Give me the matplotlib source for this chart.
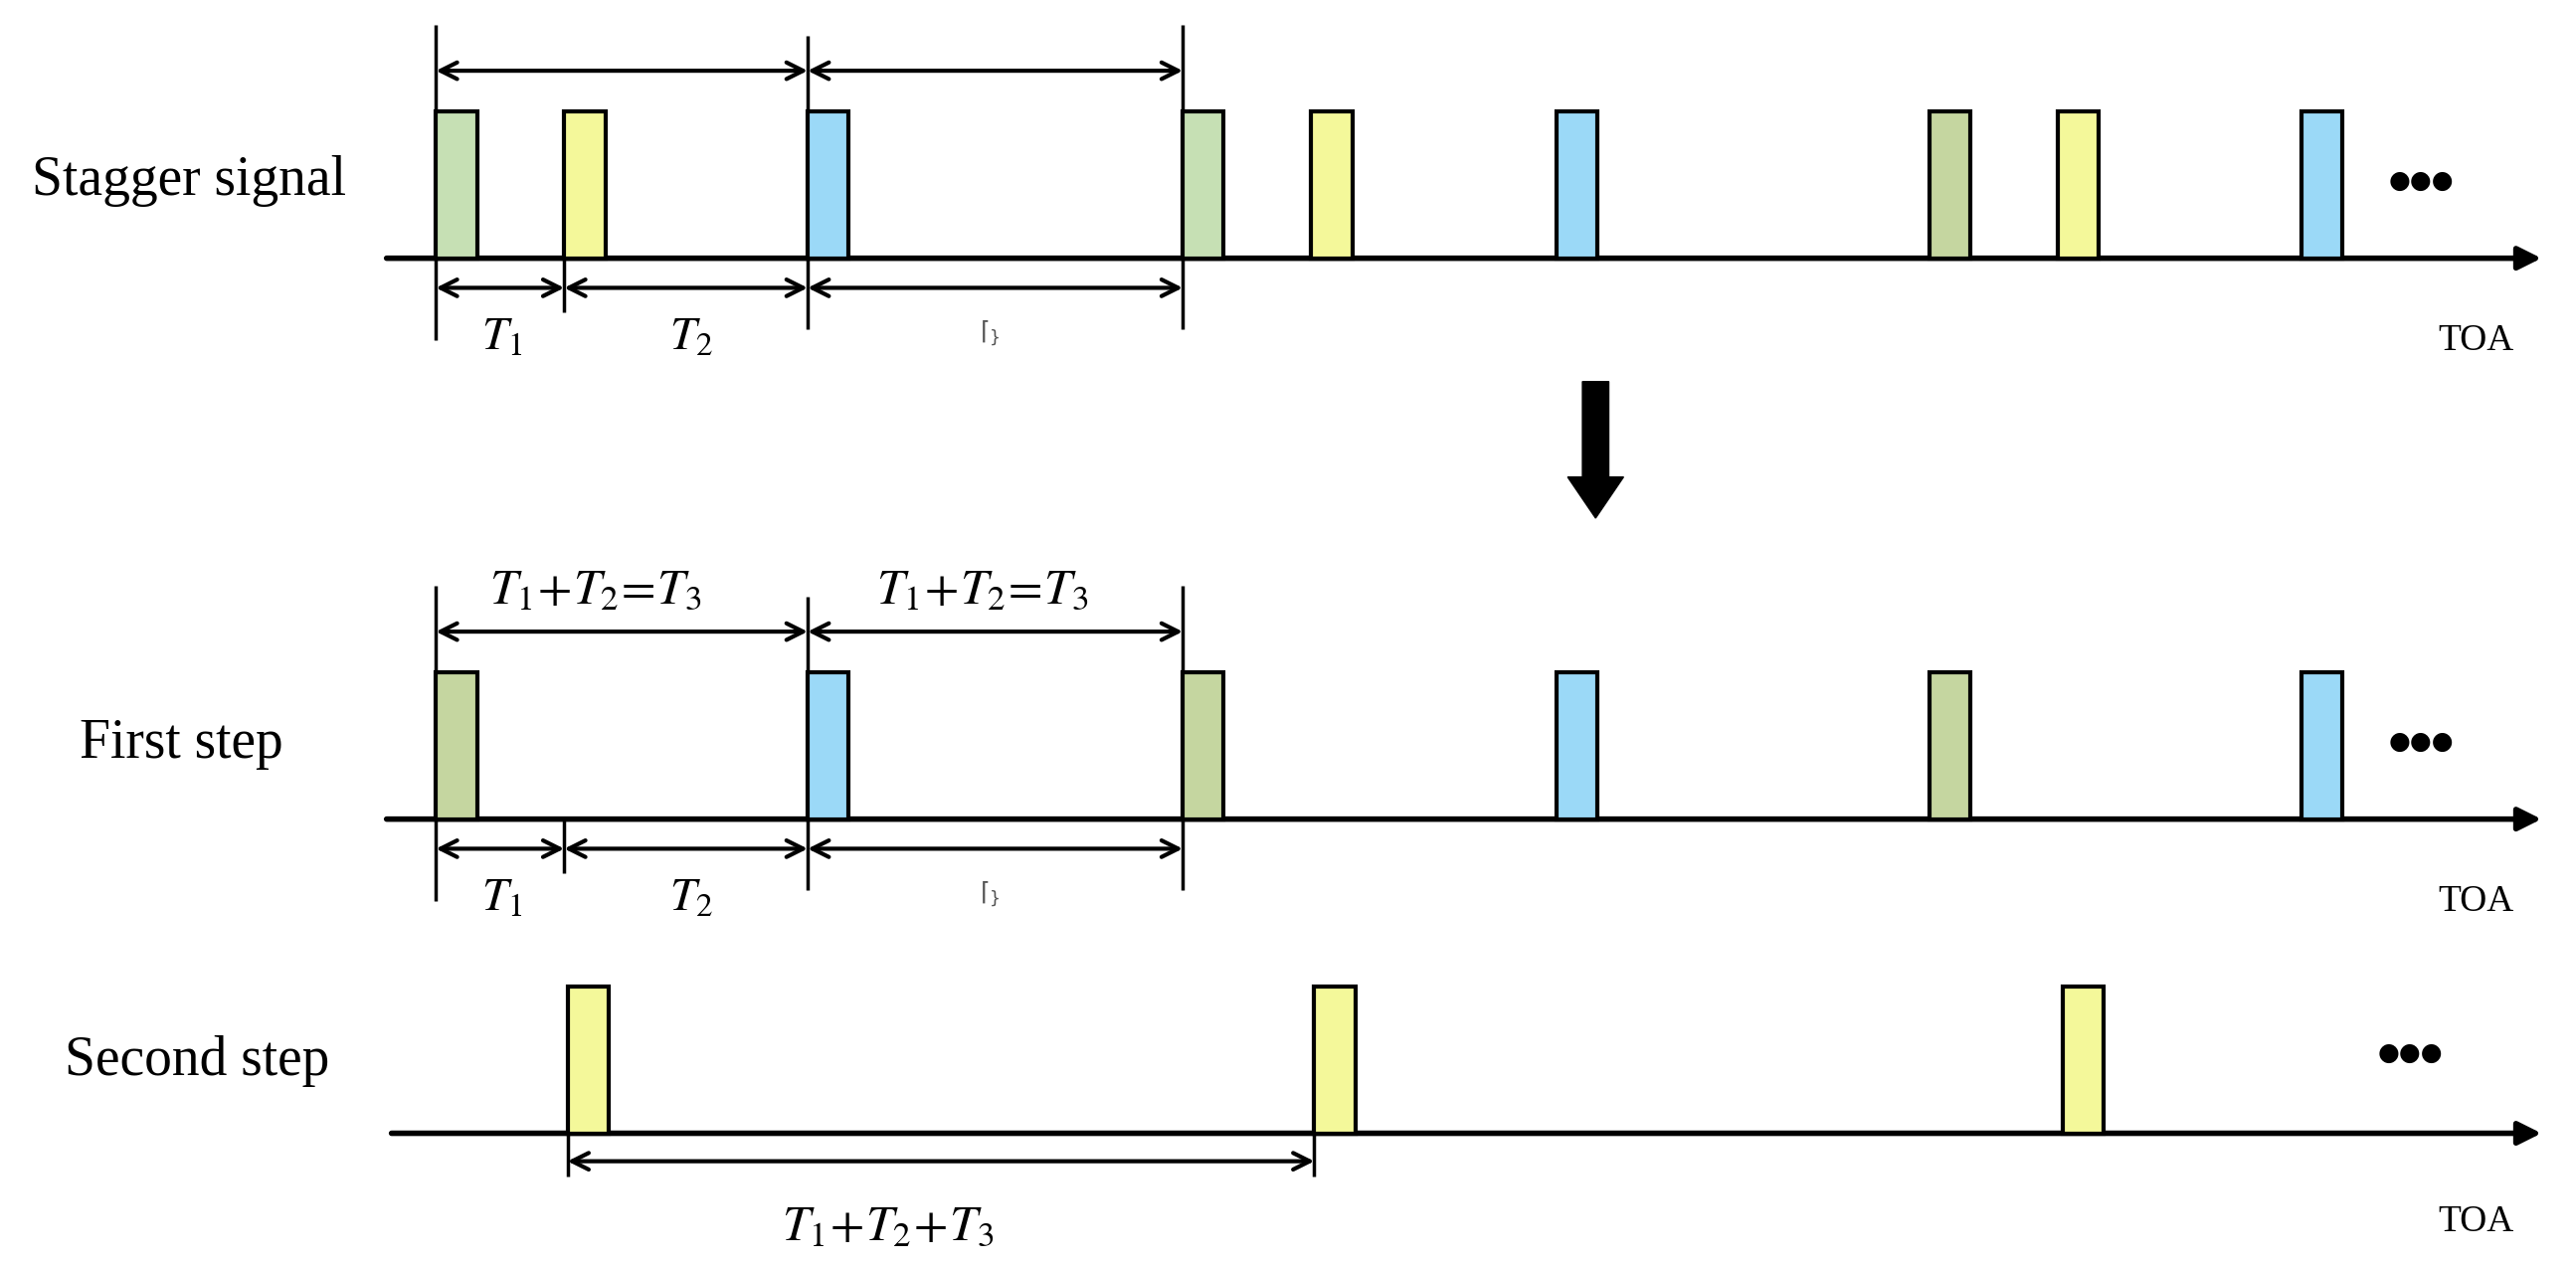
import matplotlib
matplotlib.use("Agg")
import matplotlib.pyplot as plt
from matplotlib.patches import Rectangle, FancyArrow

S = 2590/1566.0
W, H = 2590, 1273
GREEN, DGREEN, YELLOW, BLUE = "#C6E0B4", "#C5D6A0", "#F4F89A", "#9BD9F7"

row_titles = ["Stagger signal", "First step", "Second step"]
title_xy = [(115, 110), (110, 452), (120, 645)]
axis_y = [157, 498, 689]
axis_x0 = [235, 235, 238]
pulse_top = [68, 409, 600]
pulses = [
    [(265, GREEN), (343, YELLOW), (491, BLUE), (719, GREEN), (797, YELLOW), (946, BLUE), (1173, DGREEN), (1251, YELLOW), (1399, BLUE)],
    [(265, DGREEN), (491, BLUE), (719, DGREEN), (946, BLUE), (1173, DGREEN), (1399, BLUE)],
    [(345, YELLOW), (799, YELLOW), (1254, YELLOW)],
]
dots_xy = [(1472, 110), (1472, 451), (1465, 640)]
toa_y = [207, 548, 743]

fig = plt.figure(figsize=(W/100, H/100), dpi=100)
ax = fig.add_axes([0, 0, 1, 1])
ax.set_xlim(0, W); ax.set_ylim(H, 0); ax.axis("off")
serif = ["Liberation Serif", "DejaVu Serif"]

def P(x, y): return x*S, y*S

def line(x0, y0, x1, y1, lw=3):
    ax.plot([x0*S, x1*S], [y0*S, y1*S], color="black", lw=lw, solid_capstyle="butt")

def darrow(x0, x1, y):
    ax.annotate("", xy=P(x1, y), xytext=P(x0, y),
                arrowprops=dict(arrowstyle="<->", lw=3, color="black", mutation_scale=30, shrinkA=0, shrinkB=0))

for i in range(3):
    ay = axis_y[i]
    ax.annotate("", xy=P(1545, ay), xytext=P(axis_x0[i], ay),
                arrowprops=dict(arrowstyle="-|>", lw=4, color="black", mutation_scale=35, shrinkA=0, shrinkB=0))
    for x, c in pulses[i]:
        ax.add_patch(Rectangle(P(x, pulse_top[i]), 25*S, (ay-pulse_top[i])*S, facecolor=c, edgecolor="black", lw=3, zorder=3))
    ax.text(*P(*title_xy[i]), row_titles[i], family=serif, fontsize=40, ha="center", va="center")
    ax.text(*P(*dots_xy[i]), "●●●", fontsize=18, ha="center", va="center")
    ax.text(*P(1505, toa_y[i]), "TOA", family=serif, fontsize=27, ha="center", va="center")

for off, lab in [(0, None), (341, r"$T_1\!+\!T_2\!=\!T_3$")]:
    for x, y0, y1 in [(265, 15, 207), (491, 22, 200), (719, 15, 200)]:
        line(x, y0+off, x, y1+off, lw=2.5)
    line(343, 157+off, 343, 190+off, lw=2.5)
    darrow(265, 491, 43+off); darrow(491, 719, 43+off)
    darrow(265, 343, 175+off); darrow(343, 491, 175+off); darrow(491, 719, 175+off)
    ax.text(*P(305, 205+off), r"$T_1$", fontsize=34, ha="center", va="center", math_fontfamily="stix")
    ax.text(*P(420, 205+off), r"$T_2$", fontsize=34, ha="center", va="center", math_fontfamily="stix")
    ax.text(*P(602, 202+off), r"$\lceil_{\}}$", fontsize=18, color="#555555", ha="center", va="center")
    if lab:
        for cx in (362, 597):
            ax.text(*P(cx, 358), lab, fontsize=36, ha="center", va="center", math_fontfamily="stix")

line(345, 689, 345, 715, lw=2.5); line(799, 689, 799, 715, lw=2.5)
darrow(345, 799, 706)
ax.text(*P(540, 745), r"$T_1\!+\!T_2\!+\!T_3$", fontsize=36, ha="center", va="center", math_fontfamily="stix")

ax.add_patch(FancyArrow(970*S, 232*S, 0, 83*S, width=16*S, head_width=34*S, head_length=25*S,
                        length_includes_head=True, color="black"))

fig.savefig("out.png", dpi=100)
